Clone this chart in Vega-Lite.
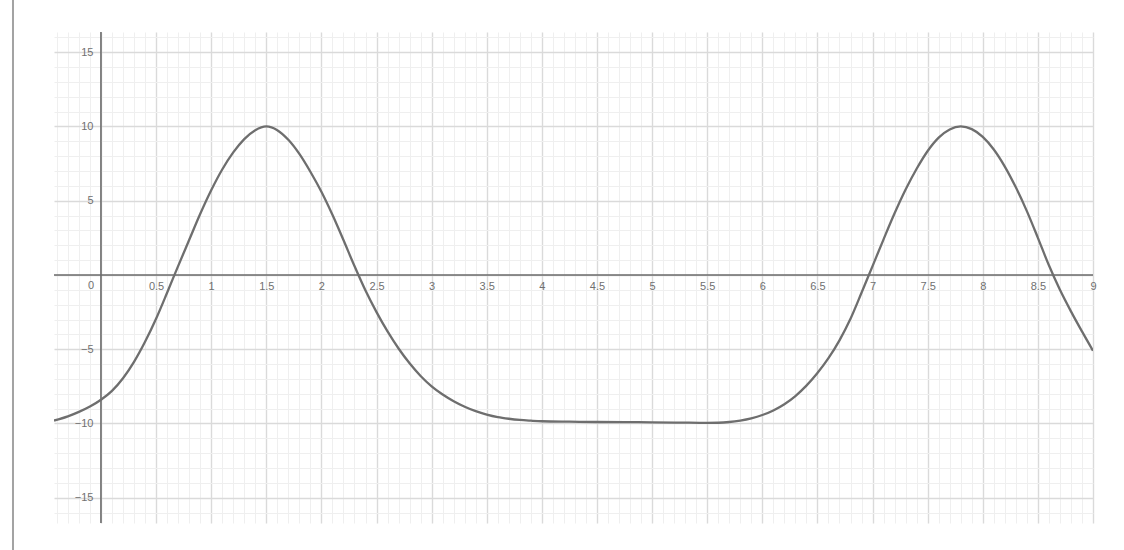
{
  "$schema": "https://vega.github.io/schema/vega-lite/v6.json",
  "width": 1039,
  "height": 491,
  "autosize": {"type": "none"},
  "padding": {"left": 54, "top": 32, "right": 31, "bottom": 27},
  "background": "white",
  "config": {"view": {"stroke": null}},
  "data": {
    "values": [
      {"x": -0.426, "y": -9.8}, {"x": -0.3, "y": -9.52}, {"x": -0.2, "y": -9.22}, {"x": -0.1, "y": -8.86},
      {"x": 0, "y": -8.4}, {"x": 0.1, "y": -7.8}, {"x": 0.2, "y": -6.95}, {"x": 0.3, "y": -5.85},
      {"x": 0.4, "y": -4.5}, {"x": 0.5, "y": -2.95}, {"x": 0.6, "y": -1.2}, {"x": 0.7, "y": 0.6},
      {"x": 0.8, "y": 2.35}, {"x": 0.9, "y": 4.1}, {"x": 1.0, "y": 5.7}, {"x": 1.1, "y": 7.1},
      {"x": 1.2, "y": 8.25}, {"x": 1.3, "y": 9.15}, {"x": 1.4, "y": 9.75}, {"x": 1.5, "y": 10},
      {"x": 1.6, "y": 9.75}, {"x": 1.7, "y": 9.1}, {"x": 1.8, "y": 8.15}, {"x": 1.9, "y": 6.95},
      {"x": 2.0, "y": 5.6}, {"x": 2.1, "y": 4.05}, {"x": 2.2, "y": 2.35}, {"x": 2.3, "y": 0.6},
      {"x": 2.4, "y": -1.05}, {"x": 2.5, "y": -2.5}, {"x": 2.6, "y": -3.8}, {"x": 2.7, "y": -4.95},
      {"x": 2.8, "y": -5.95}, {"x": 2.9, "y": -6.8}, {"x": 3.0, "y": -7.5}, {"x": 3.1, "y": -8.05},
      {"x": 3.2, "y": -8.5}, {"x": 3.3, "y": -8.87}, {"x": 3.4, "y": -9.17}, {"x": 3.5, "y": -9.4},
      {"x": 3.6, "y": -9.57}, {"x": 3.7, "y": -9.68}, {"x": 3.8, "y": -9.76}, {"x": 3.9, "y": -9.81},
      {"x": 4.0, "y": -9.85}, {"x": 4.25, "y": -9.88}, {"x": 4.5, "y": -9.9}, {"x": 4.75, "y": -9.91},
      {"x": 5.0, "y": -9.92}, {"x": 5.25, "y": -9.94}, {"x": 5.5, "y": -9.96}, {"x": 5.6, "y": -9.95},
      {"x": 5.7, "y": -9.9}, {"x": 5.8, "y": -9.8}, {"x": 5.9, "y": -9.65}, {"x": 6.0, "y": -9.43},
      {"x": 6.1, "y": -9.12}, {"x": 6.2, "y": -8.7}, {"x": 6.3, "y": -8.15}, {"x": 6.4, "y": -7.45},
      {"x": 6.5, "y": -6.6}, {"x": 6.6, "y": -5.6}, {"x": 6.7, "y": -4.4}, {"x": 6.8, "y": -2.95},
      {"x": 6.9, "y": -1.2}, {"x": 7.0, "y": 0.6}, {"x": 7.1, "y": 2.4}, {"x": 7.2, "y": 4.15},
      {"x": 7.3, "y": 5.75}, {"x": 7.4, "y": 7.15}, {"x": 7.5, "y": 8.35}, {"x": 7.6, "y": 9.25},
      {"x": 7.7, "y": 9.8}, {"x": 7.8, "y": 10}, {"x": 7.9, "y": 9.82}, {"x": 8.0, "y": 9.3},
      {"x": 8.1, "y": 8.45}, {"x": 8.2, "y": 7.3}, {"x": 8.3, "y": 5.9}, {"x": 8.4, "y": 4.3},
      {"x": 8.5, "y": 2.5}, {"x": 8.6, "y": 0.65}, {"x": 8.7, "y": -1.0}, {"x": 8.8, "y": -2.45},
      {"x": 8.9, "y": -3.8}, {"x": 9.0, "y": -5.1}
    ]
  },
  "layer": [
    {
      "mark": {"type": "rule", "color": "#6b6b6b", "strokeWidth": 1.6},
      "data": {"values": [{}]},
      "encoding": {
        "y": {
          "datum": 0,
          "type": "quantitative",
          "scale": {"domain": [-16.7, 16.36], "nice": false, "zero": false},
          "axis": {
            "orient": "left",
            "offset": -47,
            "tickCount": 1000,
            "values": [-16, -15, -14, -13, -12, -11, -10, -9, -8, -7, -6, -5, -4, -3, -2, -1, 0, 1, 2, 3, 4, 5, 6, 7, 8, 9, 10, 11, 12, 13, 14, 15, 16],
            "format": "~g",
            "domain": false,
            "ticks": false,
            "labelPadding": 8,
            "labelOverlap": false,
            "labelExpr": "datum.value % 5 === 0 && datum.value !== 0 ? datum.label : ''",
            "labelFont": "Liberation Sans",
            "labelFontSize": 11,
            "labelColor": "#707070",
            "grid": true,
            "gridColor": {"condition": {"test": "datum.value % 5 === 0", "value": "#dadada"}, "value": "#efefef"},
            "gridWidth": {"condition": {"test": "datum.value % 5 === 0", "value": 1.4}, "value": 1},
            "title": null
          }
        }
      }
    },
    {
      "mark": {"type": "rule", "color": "#6b6b6b", "strokeWidth": 1.6},
      "data": {"values": [{}]},
      "encoding": {
        "x": {
          "datum": 0,
          "type": "quantitative",
          "scale": {"domain": [-0.426, 9.0], "nice": false, "zero": false},
          "axis": {
            "orient": "bottom",
            "offset": -248,
            "tickCount": 1000,
            "values": [-0.4, -0.3, -0.2, -0.1, 0, 0.1, 0.2, 0.3, 0.4, 0.5, 0.6, 0.7, 0.8, 0.9, 1, 1.1, 1.2, 1.3, 1.4, 1.5, 1.6, 1.7, 1.8, 1.9, 2, 2.1, 2.2, 2.3, 2.4, 2.5, 2.6, 2.7, 2.8, 2.9, 3, 3.1, 3.2, 3.3, 3.4, 3.5, 3.6, 3.7, 3.8, 3.9, 4, 4.1, 4.2, 4.3, 4.4, 4.5, 4.6, 4.7, 4.8, 4.9, 5, 5.1, 5.2, 5.3, 5.4, 5.5, 5.6, 5.7, 5.8, 5.9, 6, 6.1, 6.2, 6.3, 6.4, 6.5, 6.6, 6.7, 6.8, 6.9, 7, 7.1, 7.2, 7.3, 7.4, 7.5, 7.6, 7.7, 7.8, 7.9, 8, 8.1, 8.2, 8.3, 8.4, 8.5, 8.6, 8.7, 8.8, 8.9, 9],
            "format": ".2~f",
            "domain": false,
            "ticks": false,
            "labelPadding": 5,
            "labelOverlap": false,
            "labelFlush": false,
            "labelExpr": "abs(datum.value * 2 - round(datum.value * 2)) < 0.001 && datum.value > 0 ? datum.label : ''",
            "labelFont": "Liberation Sans",
            "labelFontSize": 11,
            "labelColor": "#707070",
            "grid": true,
            "gridColor": {"condition": {"test": "abs(datum.value * 2 - round(datum.value * 2)) < 0.001", "value": "#dadada"}, "value": "#efefef"},
            "gridWidth": {"condition": {"test": "abs(datum.value * 2 - round(datum.value * 2)) < 0.001", "value": 1.4}, "value": 1},
            "title": null
          }
        }
      }
    },
    {
      "mark": {"type": "text", "dx": -10, "dy": 11, "font": "Liberation Sans", "fontSize": 11, "color": "#707070"},
      "data": {"values": [{"label": "0"}]},
      "encoding": {
        "x": {"datum": 0, "type": "quantitative"},
        "y": {"datum": 0, "type": "quantitative"},
        "text": {"field": "label"}
      }
    },
    {
      "mark": {"type": "line", "color": "#6e6e6e", "strokeWidth": 2.3, "interpolate": "monotone", "clip": true},
      "encoding": {
        "x": {"field": "x", "type": "quantitative"},
        "y": {"field": "y", "type": "quantitative"}
      }
    },
    {
      "mark": {"type": "rule", "color": "#a3a3a3", "strokeWidth": 2},
      "data": {"values": [{}]},
      "encoding": {
        "x": {"datum": -0.798, "type": "quantitative"},
        "y": {"datum": 18.6, "type": "quantitative"},
        "y2": {"datum": -18.6}
      }
    }
  ]
}
